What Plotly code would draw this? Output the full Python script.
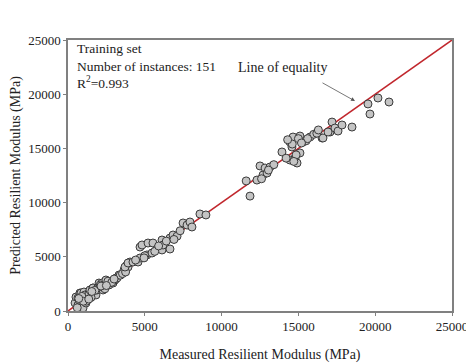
import plotly.graph_objects as go

# Measured (x) and predicted (y) resilient modulus, MPa
measured = [
    # low cluster
    460, 520, 650, 650, 720, 780, 850, 980, 1040, 1110, 1170, 1300, 1370, 1430, 1630, 1630,
    1820, 1890, 1950, 2020, 2210, 2280, 2280, 2470, 2670, 2730, 2930, 3060, 3130, 3190,
    3320, 3650, 3840, 3910, 3970, 4040, 600, 900, 1200, 1500, 1750, 2100, 2400, 2600,
    2850, 3400, 3550, 1000, 1350, 2150, 700, 1550, 2500, 3000, 3750,
    # mid cluster
    3710, 3910, 4230, 4560, 4690, 4690, 4820, 5140, 5210, 5470, 5530, 5790, 6120, 6120,
    6190, 6640, 6640, 6840, 7490, 7750, 7940, 8070, 8590, 8980, 4400, 5000, 5650, 6400,
    7100, 7300, 5900, 4950, 6900,
    # high cluster
    11600, 11850, 12300, 12500, 12700, 12830, 12960, 13150, 13930, 14450, 14450, 14580,
    14650, 14780, 14910, 15100, 15100, 15760, 16540, 17060, 16600, 16930, 17190, 17380,
    17580, 17840, 18490, 13400, 14200, 14600, 15300, 15500, 16000, 16200, 14300, 15000,
    12600, 13050, 14850, 15600, 16300, 14700, 15200,
    # top
    19530, 20180, 20900, 19660,
]
predicted = [
    740, 1290, 550, 1200, 1010, 1660, 1660, 280, 1750, 1480, 740, 1200, 1660, 1940, 2120, 2120,
    1480, 1940, 2210, 2580, 2580, 1940, 2210, 2860, 2400, 2680, 2580, 2860, 3040, 3040,
    3320, 3780, 4240, 4060, 4430, 4520, 300, 1350, 900, 1250, 1900, 2400, 2050, 2750,
    2650, 3300, 3450, 900, 1100, 2300, 1150, 1800, 2350, 2950, 3600,
    4060, 4430, 4520, 4520, 4890, 5900, 6090, 5170, 6270, 5350, 6270, 5720, 6550, 5630,
    6090, 6730, 5720, 7010, 8120, 7930, 8210, 7750, 8950, 8860, 4700, 5100, 5500, 6450,
    6900, 7400, 6000, 4900, 6600,
    12000, 10600, 12080, 13380, 12550, 13190, 12730, 13280, 14670, 15590, 13930, 15130,
    16050, 14110, 13650, 16140, 14580, 16050, 15960, 16510, 15960, 16510, 17430, 16880,
    16600, 17160, 16970, 13500, 14100, 15400, 15600, 15700, 16300, 16400, 15800, 15900,
    12200, 13000, 14400, 15900, 16700, 13800, 15500,
    19100, 19650, 19280, 18170,
]
equality = [0, 25000]
tick_vals = [0, 5000, 10000, 15000, 20000, 25000]
tick_text = ["0", "5000", "10000", "15000", "20000", "25000"]

FONT = "Liberation Serif, Times New Roman, serif"
AX = "#808080"
TXT = "#222"

fig = go.Figure()
fig.add_trace(go.Scatter(
    x=equality, y=equality, mode="lines",
    line=dict(color="#c1272d", width=1.5), hoverinfo="skip", showlegend=False,
))
fig.add_trace(go.Scatter(
    x=measured, y=predicted, mode="markers",
    marker=dict(size=8, color="#c4c4c4", line=dict(color="#3a3a3a", width=1)),
    showlegend=False,
))

axis_common = dict(
    range=[0, 25000], tickvals=tick_vals, ticktext=tick_text,
    showgrid=False, zeroline=False, automargin=False, ticklabeloverflow="allow",
    showline=True, linecolor=AX, linewidth=1.5, mirror=True,
    ticks="outside", ticklen=3, tickcolor=AX,
    tickfont=dict(family=FONT, size=13, color=TXT),
)
fig.update_xaxes(**axis_common, title=dict(text="Measured Resilient Modulus (MPa)",
                 font=dict(family=FONT, size=14, color=TXT), standoff=16))
fig.update_yaxes(**axis_common, title=dict(text="Predicted Resilient Modulus (MPa)",
                 font=dict(family=FONT, size=14, color=TXT), standoff=14))

fig.add_annotation(
    x=0.02, y=1.0, xref="paper", yref="paper", xanchor="left", yanchor="top",
    align="left", showarrow=False, borderpad=0,
    text="Training set<br>Number of instances: 151<br>R<sup>2</sup>=0.993",
    font=dict(family=FONT, size=13.5, color=TXT),
)
fig.add_annotation(
    x=18685, y=19370, ax=-34, ay=-19, xref="x", yref="y", axref="pixel", ayref="pixel",
    text="", showarrow=True, arrowhead=2, arrowsize=1, arrowwidth=0.8, arrowcolor="#555",
)
fig.add_annotation(
    x=13950, y=22420, xref="x", yref="y", showarrow=False,
    text="Line of equality", font=dict(family=FONT, size=14, color=TXT),
)

# page body has an 8px margin, so the figure is 8px smaller than the window
fig.update_layout(
    width=466, height=355, margin=dict(l=60, r=22, t=32, b=52),
    paper_bgcolor="white", plot_bgcolor="white",
)
fig.write_html("out.html")
